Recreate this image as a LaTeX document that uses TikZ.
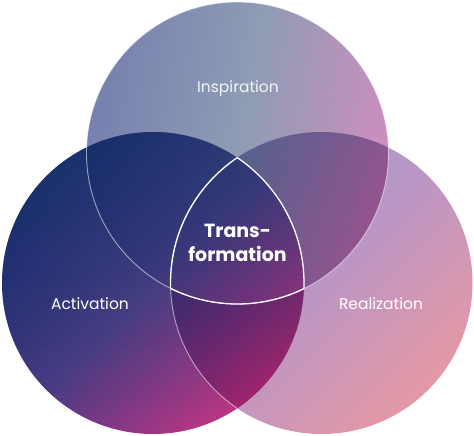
\documentclass[tikz,border=0pt]{standalone}
\usepackage{fontspec}
\setmainfont{Poppins}
\usepackage{tikz}
\usetikzlibrary{calc,fadings}

\definecolor{insL}{HTML}{7780AE}
\definecolor{insM}{HTML}{8E9CB4}
\definecolor{insR}{HTML}{CE8EBC}
\definecolor{actT}{HTML}{0D1866}
\definecolor{actM}{HTML}{42307E}
\definecolor{actB}{HTML}{C02A7E}
\definecolor{actTeal}{HTML}{1A4A6C}
\definecolor{reaT}{HTML}{9AA0C6}
\definecolor{reaM}{HTML}{BC96C4}
\definecolor{reaB}{HTML}{E498A4}

\begin{document}
\begin{tikzpicture}[x=1pt,y=-1pt,
  set text/.style={text=white, inner sep=0, font=\fontsize{15.5}{18}\selectfont},
  faint line/.style={draw=white, draw opacity=0.55, line width=0.9pt},
  rea shade/.style={top color=reaT, bottom color=reaB, middle color=reaM, shading angle=45}]
  \useasboundingbox (0,0) rectangle (474,436);
  \coordinate (I) at (237.5,153);
  \coordinate (A) at (153,283);
  \coordinate (R) at (321.5,283);

  \shade[left color=insL, right color=insR, middle color=insM, shading angle=80] (I) circle (151pt);
  \shade[rea shade, blend mode=multiply] (R) circle (151pt);
  \shade[top color=actT, bottom color=actB, middle color=actM, shading angle=45, fill opacity=0.95] (A) circle (151pt);
  \fill[actTeal, path fading=south, fill opacity=0.4] (A) circle (151pt);
  % darker where activation and realization meet below inspiration
  \begin{scope}[even odd rule]
    \clip (A) circle (151pt);
    \clip (I) circle (151pt) (-10,-10) rectangle (484,446);
    \shade[rea shade, blend mode=multiply, fill opacity=0.55] (R) circle (151pt);
  \end{scope}

  \draw[faint line] (I) circle (151pt);
  \begin{scope}
    \clip (A) circle (151pt);
    \draw[faint line] (R) circle (151pt);
  \end{scope}
  \foreach \p/\q/\r in {I/A/R, A/R/I, R/I/A}{
    \begin{scope}
      \clip (\q) circle (151pt);
      \clip (\r) circle (151pt);
      \draw[white, line width=1.3pt] (\p) circle (151pt);
    \end{scope}
  }

  \node[set text, text opacity=0.9] (inspiration) at (238,89) {Inspiration};
  \node[set text] (activation) at (90,304) {Activation};
  \node[set text] (realization) at (381,304) {Realization};
  \node[set text, align=center, font=\fontsize{19}{24}\selectfont\bfseries] (transformation) at (237.5,243) {Trans-\\formation};
\end{tikzpicture}
\end{document}
